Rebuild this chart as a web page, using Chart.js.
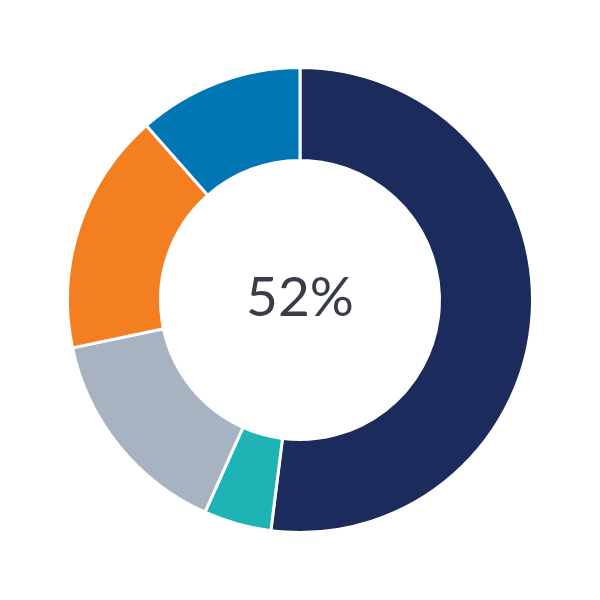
<!DOCTYPE html>
<html><head><meta charset="utf-8">
<script src="https://cdn.jsdelivr.net/npm/chart.js@4/dist/chart.umd.min.js"></script>
<style>html,body{margin:0;padding:0;background:#fff}#wrap{width:600px;height:600px;position:relative}</style>
</head><body><div id="wrap"><canvas id="c" width="600" height="600"></canvas></div>
<script>
const categories = ["A","B","C","D","E"];
const values = [52, 4.7, 15, 16.8, 11.5];
const colors = ["#1b2b5b","#1eb4b6","#a8b3c1","#f37f20","#0076b5"];
const centerLabel = "52%";

const centerText = {
  id:'centerText',
  afterDraw(chart){
    const {ctx} = chart;
    const m = chart.getDatasetMeta(0).data[0];
    ctx.save();
    ctx.font = '400 55px Lato';
    ctx.fillStyle = '#383d49';
    ctx.textAlign = 'center';
    ctx.textBaseline = 'middle';
    ctx.fillText(centerLabel, m.x, m.y - 2);
    ctx.restore();
  }
};
new Chart(document.getElementById('c'), {
  type:'doughnut',
  data:{labels:categories, datasets:[{data:values, backgroundColor:colors, borderColor:'#fff', borderWidth:3}]},
  options:{
    responsive:false, animation:false,
    cutout:'60%',
    layout:{padding:{top:66,bottom:66,left:66,right:66}},
    plugins:{legend:{display:false}, tooltip:{enabled:false}}
  },
  plugins:[centerText]
});
</script></body></html>
